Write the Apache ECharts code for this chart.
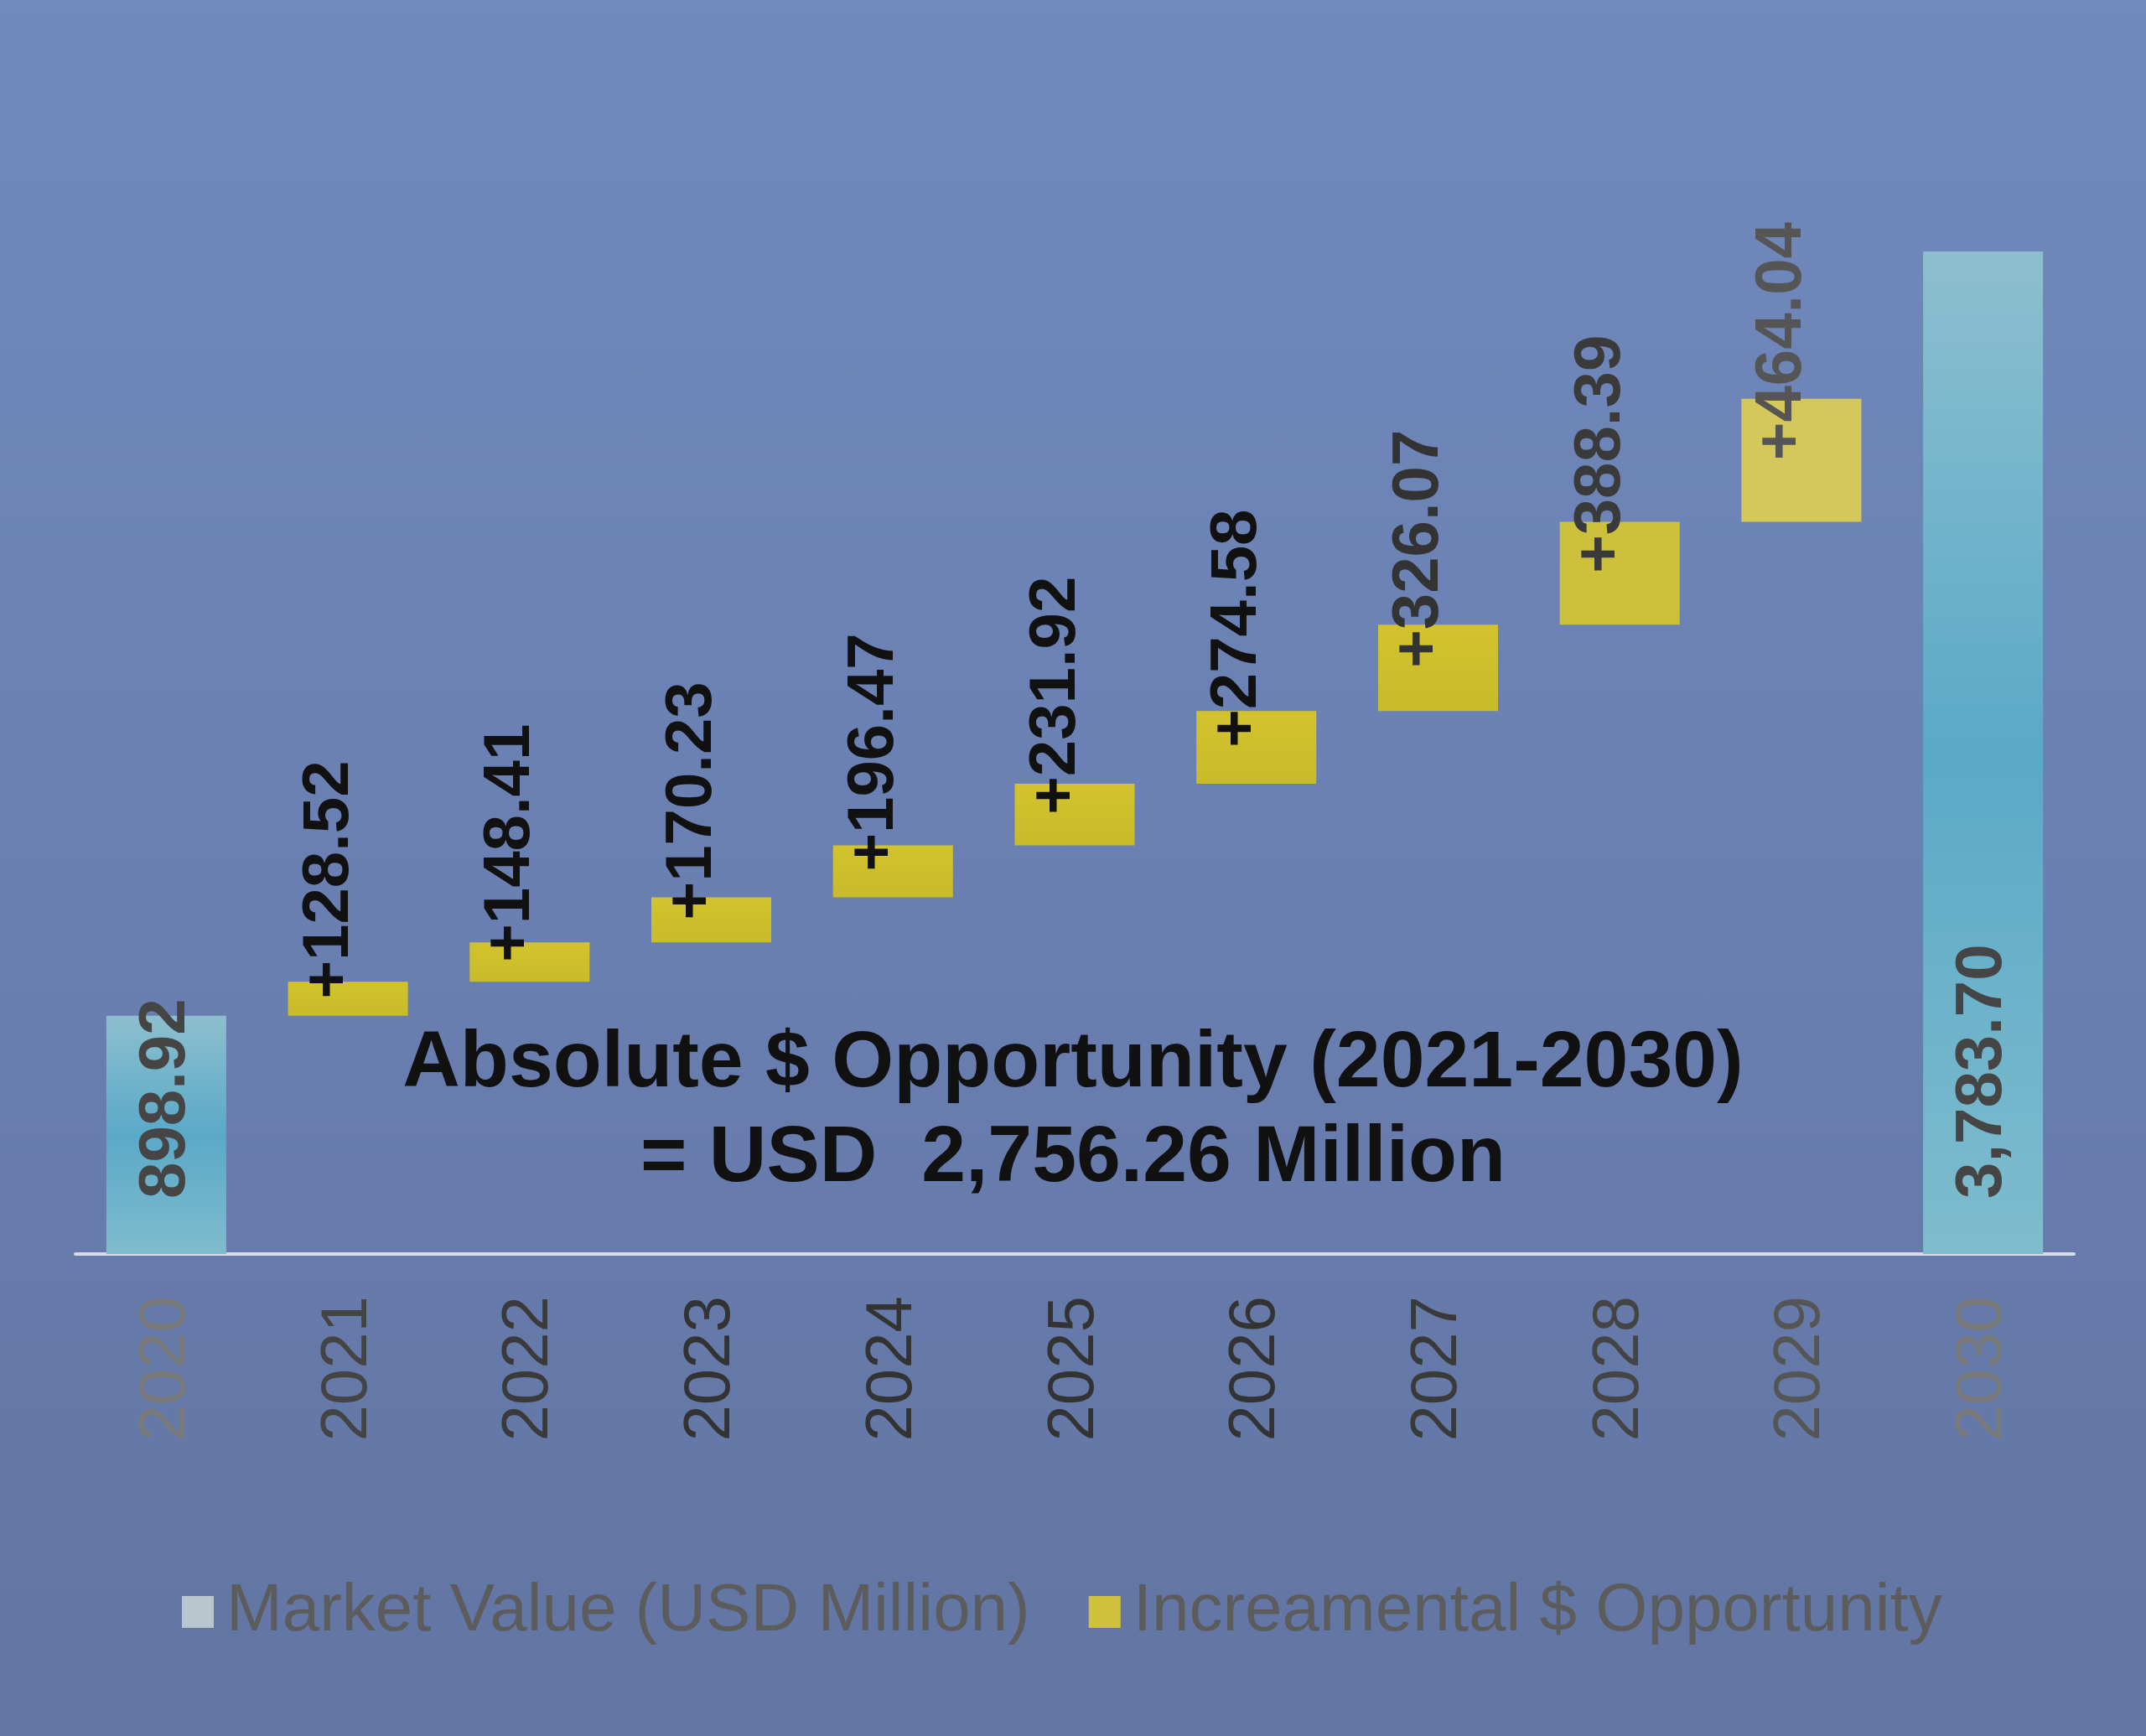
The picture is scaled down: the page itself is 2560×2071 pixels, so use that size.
<!DOCTYPE html>
<html><head><meta charset="utf-8">
<script src="https://cdn.jsdelivr.net/npm/echarts@6/dist/echarts.min.js"></script>
<style>html,body{margin:0;padding:0;}#c{width:2560px;height:2071px;background:linear-gradient(180deg,#7189bd 0%,#6a80b2 50%,#6275a3 100%);}</style>
</head><body><div id="c"></div>
<script>
const years = ['2020','2021','2022','2023','2024','2025','2026','2027','2028','2029','2030'];
const marketValue = [898.92,null,null,null,null,null,null,null,null,null,3783.70];
const increments = [null,128.52,148.41,170.23,196.47,231.92,274.58,326.07,388.39,464.04,null];
const titleLines = ['Absolute $ Opportunity (2021-2030)','= USD  2,756.26 Million'];
const legendNames = ['Market Value (USD Million)','Increamental $ Opportunity'];

const base = [];
let run = marketValue[0];
for (let i = 0; i < years.length; i++) {
  if (increments[i] != null) { base.push(run); run += increments[i]; } else base.push(null);
}
const incLabelColors = ['#111','#111','#111','#111','#111','#111','#111','#333','#3a3a3a','#555','#111'];
const axisColors = ['#7a7a7a','#444','#3a3a3a','#333','#333','#333','#333','#3a3a3a','#444','#555','#7a7a7a'];

const blueGrad = new echarts.graphic.LinearGradient(0,0,0,1,[
  {offset:0,color:'#8dbfce'},{offset:0.5,color:'#5aa9c8'},{offset:1,color:'#7fbccd'}]);
const yellowGrad = new echarts.graphic.LinearGradient(0,0,0,1,[
  {offset:0,color:'#d2c32e'},{offset:1,color:'#c8bb2a'}]);

const chart = echarts.init(document.getElementById('c'));
chart.setOption({
  backgroundColor:'transparent',
  animation:false,
  grid:{left:90,right:86,top:300,bottom:575},
  legend:{
    left:212, top:1878, itemWidth:38, itemHeight:38, itemGap:70,
    textStyle:{fontSize:80,color:'#5c5c5c',fontFamily:'Liberation Sans',padding:[0,0,0,10]},
    data:[{name:legendNames[0],icon:'rect',itemStyle:{color:'#b9c6ce'}},{name:legendNames[1],icon:'rect',itemStyle:{color:'#cfc23c'}}]
  },
  graphic:[
    {type:'text',left:'center',top:1222,style:{text:titleLines[0],font:'bold 95px "Liberation Sans"',fill:'#111'}},
    {type:'text',left:'center',top:1335,style:{text:titleLines[1],font:'bold 95px "Liberation Sans"',fill:'#111'}}
  ],
  xAxis:{type:'category',data:years,
    axisLine:{lineStyle:{color:'#d8dce6',width:4}},axisTick:{show:false},
    axisLabel:{rotate:90,fontSize:78,fontFamily:'Liberation Sans',margin:50,
      color:(v,i)=>axisColors[i]}},
  yAxis:{type:'value',min:0,max:3783.70,show:false,splitLine:{show:false}},
  series:[
    {name:'base',type:'bar',stack:'w',data:base,itemStyle:{color:'transparent'},barWidth:'66%',silent:true},
    {name:legendNames[1],type:'bar',stack:'w',
      data:increments.map((v,i)=>v==null?null:{value:v,label:{color:incLabelColors[i]},
        itemStyle:{color: i===9?'#d4c85a':(i===8?'#cdc03a':yellowGrad)}}),
      label:{show:true,position:'inside',rotate:90,align:'left',verticalAlign:'middle',offset:[0,-22],
        fontSize:78,fontWeight:'bold',fontFamily:'Liberation Sans',
        formatter:p=>'+'+p.value.toFixed(2),color:'#111'}},
    {name:legendNames[0],type:'bar',stack:'w',data:marketValue,
      itemStyle:{color:blueGrad},
      label:{show:true,position:'insideBottom',rotate:90,align:'left',verticalAlign:'middle',distance:66,
        fontSize:78,fontWeight:'bold',fontFamily:'Liberation Sans',color:'#454545',
        formatter:p=>p.value.toLocaleString('en-US',{minimumFractionDigits:2,maximumFractionDigits:2})}}
  ]
});
</script></body></html>
